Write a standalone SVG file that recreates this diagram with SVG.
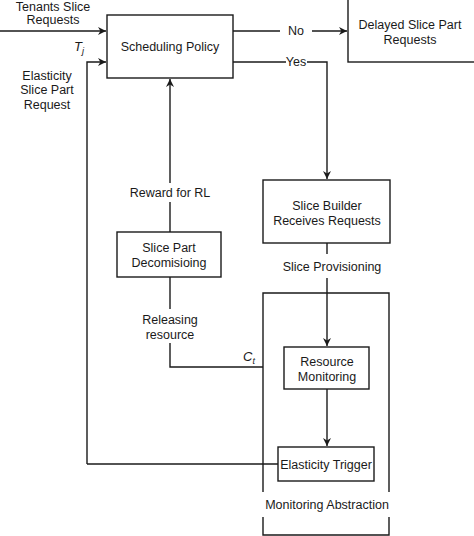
<svg xmlns="http://www.w3.org/2000/svg" width="474" height="536" viewBox="0 0 474 536">
<defs>
<style>
.box{fill:#fff;stroke:#1a1a1a;stroke-width:1.4}
.ln{fill:none;stroke:#1a1a1a;stroke-width:1.4}
text{font-family:"Liberation Sans",Arial,sans-serif;font-size:12.5px;fill:#1a1a1a;text-anchor:middle}
.it{font-style:italic;font-size:13px}
</style>
<marker id="ah" viewBox="0 0 10 10" refX="10" refY="5" markerWidth="8" markerHeight="8" markerUnits="userSpaceOnUse" orient="auto">
<path d="M0,0 L10,5 L0,10 L3,5 z" fill="#1a1a1a"/>
</marker>
</defs>
<rect width="474" height="536" fill="#fff"/>
<g id="connectors">
<path class="ln" d="M0,31 H106" marker-end="url(#ah)"/>
<path class="ln" d="M87,464 V62 H106" marker-end="url(#ah)"/>
<path class="ln" d="M278,464 H87"/>
<path class="ln" d="M233,31 H280"/>
<path class="ln" d="M312,31 H347" marker-end="url(#ah)"/>
<path class="ln" d="M233,62 H286"/>
<path class="ln" d="M307,62 H327 V179" marker-end="url(#ah)"/>
<path class="ln" d="M170,232 V202"/>
<path class="ln" d="M170,183 V79" marker-end="url(#ah)"/>
<path class="ln" d="M170,277 V309"/>
<path class="ln" d="M170,343 V367 H263"/>
<path class="ln" d="M327,243 V254"/>
<path class="ln" d="M327,278 V346" marker-end="url(#ah)"/>
<path class="ln" d="M327,389 V446" marker-end="url(#ah)"/>
</g>
<g id="labels">
<text x="53" y="11">Tenants Slice</text>
<text x="53" y="24">Requests</text>
<text class="it" x="79" y="51">T<tspan font-size="9" dy="3">j</tspan></text>
<text x="47" y="80">Elasticity</text>
<text x="47" y="94">Slice Part</text>
<text x="47" y="109">Request</text>
<text x="296" y="35">No</text>
<text x="296" y="66">Yes</text>
<text x="170" y="197">Reward for RL</text>
<text x="170" y="324">Releasing</text>
<text x="170" y="339">resource</text>
<text class="it" x="249" y="361">C<tspan font-size="9" dy="3">t</tspan></text>
<text x="332" y="271">Slice Provisioning</text>
</g>
<g id="scheduling-policy">
<rect class="box" x="107" y="15" width="126" height="63"/>
<text x="170" y="51">Scheduling Policy</text>
</g>
<g id="delayed-requests">
<rect class="box" x="348" y="-5" width="140" height="67"/>
<text x="410" y="29">Delayed Slice Part</text>
<text x="410" y="44">Requests</text>
</g>
<g id="slice-builder">
<rect class="box" x="263" y="180" width="127" height="63"/>
<text x="327" y="210">Slice Builder</text>
<text x="327" y="225">Receives Requests</text>
</g>
<g id="slice-part-decommissioning">
<rect class="box" x="117" y="232" width="104" height="45"/>
<text x="169" y="252">Slice Part</text>
<text x="169" y="267">Decomisioing</text>
</g>
<g id="monitoring-abstraction">
<path class="ln" d="M263,492 V293 H389 V492"/>
<path class="ln" d="M263,517 V535 H389 V517"/>
<text x="327" y="509">Monitoring Abstraction</text>
</g>
<g id="resource-monitoring">
<rect class="box" x="284" y="347" width="85" height="42"/>
<text x="327" y="366">Resource</text>
<text x="327" y="381">Monitoring</text>
</g>
<g id="elasticity-trigger">
<rect class="box" x="278" y="447" width="96" height="34"/>
<text x="326" y="469">Elasticity Trigger</text>
</g>
</svg>
